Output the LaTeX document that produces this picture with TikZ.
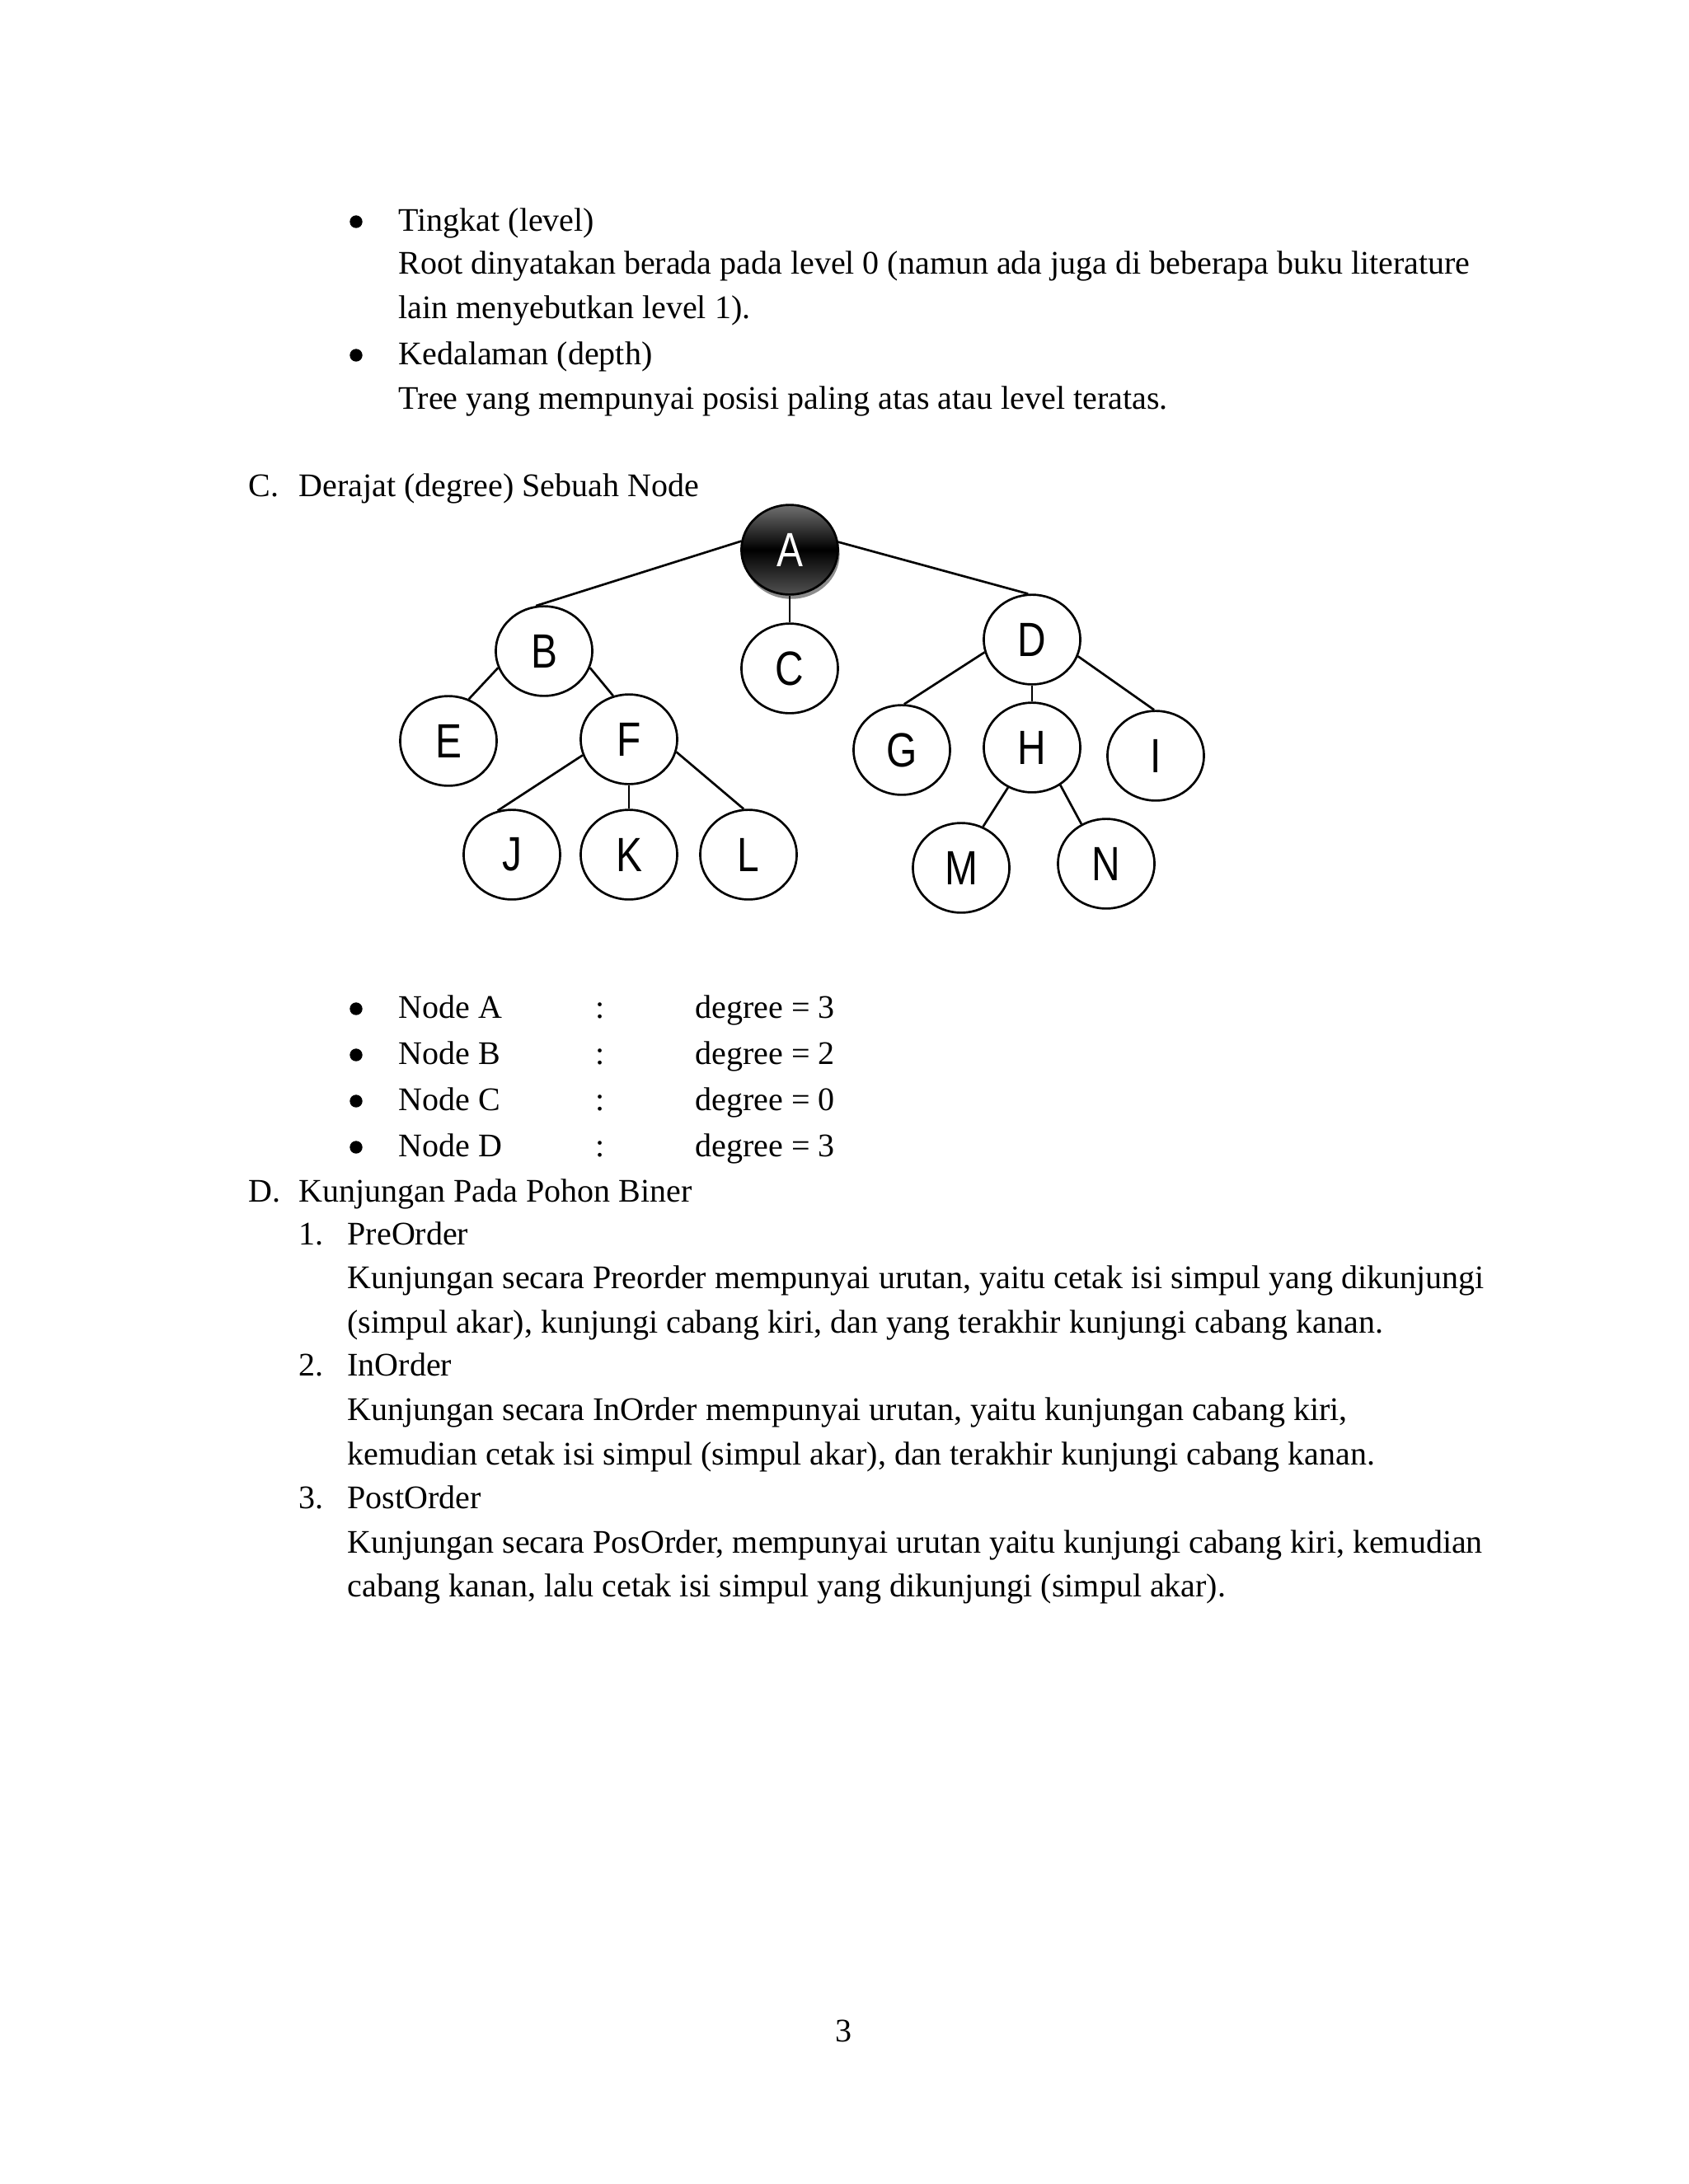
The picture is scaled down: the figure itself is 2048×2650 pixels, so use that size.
\documentclass[tikz,border=0pt]{standalone}
\usepackage{fontspec}
\setmainfont{Liberation Serif}
\newfontfamily\treefont[FakeStretch=0.82]{Liberation Sans}
\usetikzlibrary{shapes.geometric,shadows}
\begin{document}
\begin{tikzpicture}[x=0.29883bp,y=-0.29883bp,
  txt/.style={anchor=base west,inner sep=0pt,font=\fontsize{12}{14}\selectfont},
  tnode/.style={ellipse,draw=black,line width=0.8bp,fill=white,minimum width=35bp,minimum height=32.5bp,inner sep=0pt,font=\treefont\fontsize{17.5}{18}\selectfont},
  rootnode/.style={tnode,top color=gray!88!black,bottom color=gray!63!black,middle color=black,text=white,
     drop shadow={shadow xshift=0.6bp,shadow yshift=-1.6bp,fill=gray!90,opacity=1}},
  edge/.style={line width=0.8bp},
  bul/.style={fill=black}]
\useasboundingbox (0,0) rectangle (2048,2650);
\fill[white] (0,0) rectangle (2048,2650);
% top bullets
\fill[bul] (432,269) circle (2.3bp);
\fill[bul] (432,431) circle (2.3bp);
\node[txt] (t1) at (483,280) {Tingkat (level)};
\node[txt] (t2) at (483,332) {Root dinyatakan berada pada level 0 (namun ada juga di beberapa buku literature};
\node[txt] (t3) at (483,386) {lain menyebutkan level 1).};
\node[txt] (t4) at (483,442) {Kedalaman (depth)};
\node[txt] (t5) at (483,496) {Tree yang mempunyai posisi paling atas atau level teratas.};
\node[txt] (c1) at (301,602) {C.};
\node[txt] (c2) at (362,602) {Derajat (degree) Sebuah Node};
% tree
\node[rootnode] (A) at (958,667) {A};
\node[tnode] (B) at (660,790) {B};
\node[tnode] (C) at (958,811) {C};
\node[tnode] (D) at (1252,776) {D};
\node[tnode] (E) at (544,899) {E};
\node[tnode] (F) at (763,897) {F};
\node[tnode] (G) at (1094,910) {G};
\node[tnode] (H) at (1252,907) {H};
\node[tnode] (I) at (1402,917) {I};
\node[tnode] (J) at (621,1037) {J};
\node[tnode] (K) at (763,1037) {K};
\node[tnode] (L) at (908,1037) {L};
\node[tnode] (M) at (1166,1053) {M};
\node[tnode] (N) at (1342,1048) {N};
\draw[edge] (A.170) -- (B.100);
\draw[edge] (A.south) -- (C.north);
\draw[edge] (A.9) -- (D.95);
\draw[edge] (B.200) -- (E.64);
\draw[edge] (B.340) -- (F.110);
\draw[edge] (F.199) -- (J.108);
\draw[edge] (F.south) -- (K.north);
\draw[edge] (F.345) -- (L.96);
\draw[edge] (D.195) -- (G.87);
\draw[edge] (D.south) -- (H.north);
\draw[edge] (D.340) -- (I.92);
\draw[edge] (H.239) -- (M.62);
\draw[edge] (H.307) -- (N.122);
% degree list
\fill[bul] (432,1224) circle (2.3bp);
\fill[bul] (432,1280) circle (2.3bp);
\fill[bul] (432,1336) circle (2.3bp);
\fill[bul] (432,1392) circle (2.3bp);
\node[txt] (na) at (483,1235) {Node A};
\node[txt] (ca) at (722,1235) {:};
\node[txt] (da) at (843,1235) {degree = 3};
\node[txt] (nb) at (483,1291) {Node B};
\node[txt] (cb) at (722,1291) {:};
\node[txt] (db) at (843,1291) {degree = 2};
\node[txt] (nc) at (483,1347) {Node C};
\node[txt] (cc) at (722,1347) {:};
\node[txt] (dc) at (843,1347) {degree = 0};
\node[txt] (nd) at (483,1403) {Node D};
\node[txt] (cd) at (722,1403) {:};
\node[txt] (dd) at (843,1403) {degree = 3};
% section D
\node[txt] (d1) at (301,1458) {D.};
\node[txt] (d2) at (362,1458) {Kunjungan Pada Pohon Biner};
\node[txt] (p1) at (362,1510) {1.};
\node[txt] (p2) at (421,1510) {PreOrder};
\node[txt] (p3) at (421,1563) {Kunjungan secara Preorder mempunyai urutan, yaitu cetak isi simpul yang dikunjungi};
\node[txt] (p4) at (421,1617) {(simpul akar), kunjungi cabang kiri, dan yang terakhir kunjungi cabang kanan.};
\node[txt] (i1) at (362,1669) {2.};
\node[txt] (i2) at (421,1669) {InOrder};
\node[txt] (i3) at (421,1723) {Kunjungan secara InOrder mempunyai urutan, yaitu kunjungan cabang kiri,};
\node[txt] (i4) at (421,1777) {kemudian cetak isi simpul (simpul akar), dan terakhir kunjungi cabang kanan.};
\node[txt] (q1) at (362,1830) {3.};
\node[txt] (q2) at (421,1830) {PostOrder};
\node[txt] (q3) at (421,1884) {Kunjungan secara PosOrder, mempunyai urutan yaitu kunjungi cabang kiri, kemudian};
\node[txt] (q4) at (421,1937) {cabang kanan, lalu cetak isi simpul yang dikunjungi (simpul akar).};
\node[txt,anchor=base] (pg) at (1023,2477) {3};
\end{tikzpicture}
\end{document}
